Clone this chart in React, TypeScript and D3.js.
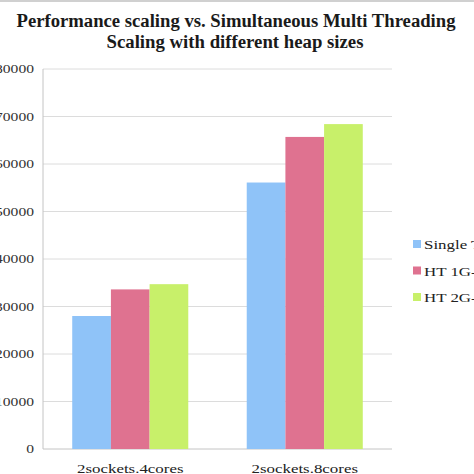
import React from "react";
import * as d3 from "d3";

const categories = ["2sockets.4cores", "2sockets.8cores"];
const seriesNames = ["Single Thread", "HT 1G-heap", "HT 2G-heap"];
const singleThread = [28000, 56100];
const ht1G = [33600, 65700];
const ht2G = [34700, 68400];
const tickValues = [0, 10000, 20000, 30000, 40000, 50000, 60000, 70000, 80000];
const colors = ["#8fc3f8", "#df7290", "#c8f06a"];

const W = 474;
const H = 474;
const SX = 1.3;

export default function App() {
  const series = [singleThread, ht1G, ht2G];
  const x0 = d3.scaleBand<string>().domain(categories).range([43, 392]).paddingInner(0.335).paddingOuter(0.1675);
  const x1 = d3.scaleBand<number>().domain(d3.range(seriesNames.length)).range([0, x0.bandwidth()]);
  const y = d3.scaleLinear().domain([0, 80000]).range([449, 69]);
  const font = "'Liberation Serif', 'Times New Roman', serif";

  const sText = (x: number, yy: number, txt: string, opts: any = {}) => (
    <text
      transform={`translate(${x},${yy}) scale(${SX},1)`}
      textAnchor={opts.anchor || "start"}
      fontSize={opts.size || 12}
      fontWeight={opts.weight || "normal"}
      fill={opts.fill || "#222"}
      fontFamily={font}
    >
      {txt}
    </text>
  );

  return (
    <svg width={W} height={H} style={{ position: "fixed", left: 0, top: 0, background: "#fff" }}>
      <rect x={0} y={0} width={W} height={H} fill="#fff" />
      <rect x={0} y={0} width={W} height={2} fill="#d0d0d0" />
      <text x={236} y={27} textAnchor="middle" fontSize={18} fontWeight="bold" fill="#1a1a1a" fontFamily={font} textLength={439} lengthAdjust="spacingAndGlyphs">
        Performance scaling vs. Simultaneous Multi Threading
      </text>
      <text x={235} y={48} textAnchor="middle" fontSize={18} fontWeight="bold" fill="#1a1a1a" fontFamily={font} textLength={257} lengthAdjust="spacingAndGlyphs">
        Scaling with different heap sizes
      </text>
      {tickValues.map((t) => (
        <g key={t}>
          {t > 0 && <line x1={43} x2={392} y1={y(t)} y2={y(t)} stroke="#dcdcdc" strokeWidth={1} />}
          {sText(34, y(t) + 4, t === 0 ? "0" : String(t), { anchor: "end", size: 12, fill: "#333" })}
        </g>
      ))}
      <line x1={43} x2={43} y1={69} y2={449} stroke="#c4c4c4" strokeWidth={1} />
      <line x1={43} x2={392} y1={449} y2={449} stroke="#c4c4c4" strokeWidth={1} />
      {categories.map((c, ci) => (
        <g key={c}>
          {series.map((s, si) => (
            <rect
              key={si}
              x={(x0(c) as number) + (x1(si) as number)}
              y={y(s[ci])}
              width={x1.bandwidth()}
              height={449 - y(s[ci])}
              fill={colors[si]}
            />
          ))}
          {sText((x0(c) as number) + x0.bandwidth() / 2, 473, c, { anchor: "middle", size: 13, fill: "#222" })}
        </g>
      ))}
      {seriesNames.map((n, i) => (
        <g key={n}>
          <rect x={413} y={240 + i * 26.5} width={8} height={8} fill={colors[i]} />
          {sText(424, 249 + i * 26.5, n, { size: 13, fill: "#222" })}
        </g>
      ))}
    </svg>
  );
}
